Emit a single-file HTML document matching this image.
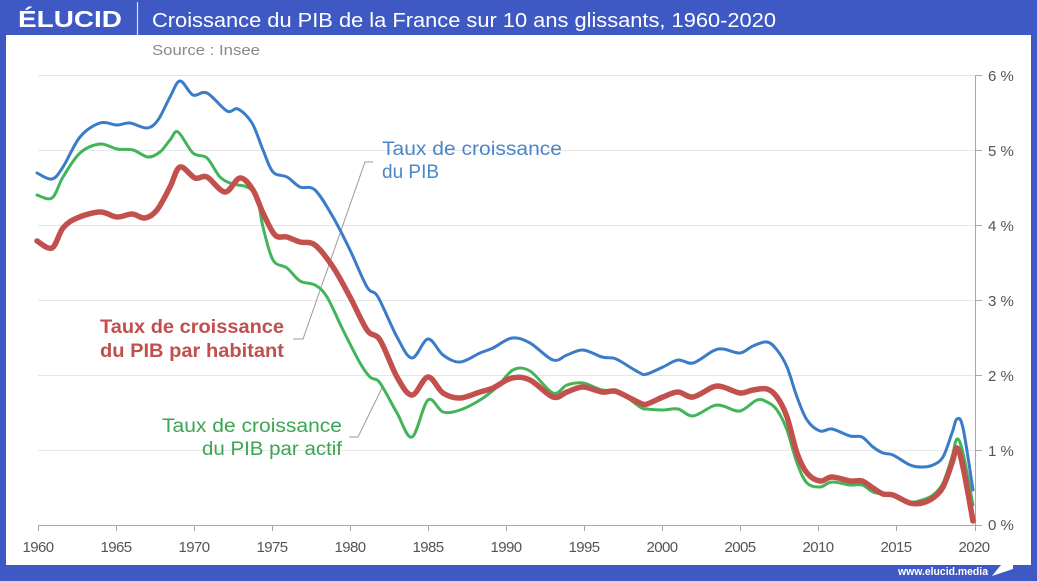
<!DOCTYPE html>
<html><head><meta charset="utf-8"><style>
html,body{margin:0;padding:0;background:#fff;}
svg{display:block;}
text{font-family:"Liberation Sans",sans-serif;}
</style></head><body>
<svg id="chart" width="1037" height="581" viewBox="0 0 1037 581" xmlns="http://www.w3.org/2000/svg">
<rect x="0" y="0" width="1037" height="581" fill="#3f59c4"/>
<rect x="6" y="35" width="1025" height="530" fill="#ffffff"/>
<polygon points="992,576 1013,569 1013,558 1000,566" fill="#ffffff"/>
<line x1="137.5" y1="2" x2="137.5" y2="35" stroke="#ffffff" stroke-width="1.2" opacity="0.8"/>
<text x="18" y="27" fill="#fff" font-size="23" font-weight="bold" textLength="104" lengthAdjust="spacingAndGlyphs">ÉLUCID</text>
<text x="152" y="27" fill="#fff" font-size="20" textLength="624" lengthAdjust="spacingAndGlyphs">Croissance du PIB de la France sur 10 ans glissants, 1960-2020</text>
<text x="152" y="55" fill="#8a8a8a" font-size="15" textLength="108" lengthAdjust="spacingAndGlyphs">Source : Insee</text>
<text x="898" y="575" fill="#fff" font-size="11" font-weight="bold" textLength="90" lengthAdjust="spacingAndGlyphs">www.elucid.media</text>

<g stroke="#e6e6e6" stroke-width="1">
<line x1="38" y1="75.5" x2="975" y2="75.5"/>
<line x1="38" y1="150.5" x2="975" y2="150.5"/>
<line x1="38" y1="225.5" x2="975" y2="225.5"/>
<line x1="38" y1="300.5" x2="975" y2="300.5"/>
<line x1="38" y1="375.5" x2="975" y2="375.5"/>
<line x1="38" y1="450.5" x2="975" y2="450.5"/>
</g>
<g stroke="#a8a8a8" stroke-width="1">
<line x1="38" y1="525.5" x2="975" y2="525.5"/>
<line x1="975.5" y1="75" x2="975.5" y2="526"/>
<line x1="975" y1="75.5" x2="982" y2="75.5"/>
<line x1="975" y1="150.5" x2="982" y2="150.5"/>
<line x1="975" y1="225.5" x2="982" y2="225.5"/>
<line x1="975" y1="300.5" x2="982" y2="300.5"/>
<line x1="975" y1="375.5" x2="982" y2="375.5"/>
<line x1="975" y1="450.5" x2="982" y2="450.5"/>
<line x1="975" y1="525.5" x2="982" y2="525.5"/>
<line x1="38.5" y1="525" x2="38.5" y2="531"/>
<line x1="116.5" y1="525" x2="116.5" y2="531"/>
<line x1="194.5" y1="525" x2="194.5" y2="531"/>
<line x1="272.5" y1="525" x2="272.5" y2="531"/>
<line x1="350.5" y1="525" x2="350.5" y2="531"/>
<line x1="428.5" y1="525" x2="428.5" y2="531"/>
<line x1="506.5" y1="525" x2="506.5" y2="531"/>
<line x1="584.5" y1="525" x2="584.5" y2="531"/>
<line x1="662.5" y1="525" x2="662.5" y2="531"/>
<line x1="740.5" y1="525" x2="740.5" y2="531"/>
<line x1="818.5" y1="525" x2="818.5" y2="531"/>
<line x1="896.5" y1="525" x2="896.5" y2="531"/>
<line x1="975.5" y1="525" x2="975.5" y2="531"/>
</g>
<g fill="#555" font-size="15">
<text x="988" y="81">6 %</text>
<text x="988" y="156">5 %</text>
<text x="988" y="231">4 %</text>
<text x="988" y="306">3 %</text>
<text x="988" y="381">2 %</text>
<text x="988" y="456">1 %</text>
<text x="988" y="530">0 %</text>
</g>
<g fill="#555" font-size="15" text-anchor="middle" letter-spacing="-0.6">
<text x="38" y="552">1960</text>
<text x="116" y="552">1965</text>
<text x="194" y="552">1970</text>
<text x="272" y="552">1975</text>
<text x="350" y="552">1980</text>
<text x="428" y="552">1985</text>
<text x="506" y="552">1990</text>
<text x="584" y="552">1995</text>
<text x="662" y="552">2000</text>
<text x="740" y="552">2005</text>
<text x="818" y="552">2010</text>
<text x="896" y="552">2015</text>
<text x="974" y="552">2020</text>
</g>

<g fill="none" stroke="#9a9a9a" stroke-width="1">
<polyline points="293,339 303,339 365,162 373,162"/>
<polyline points="349,437 358,437 382,388"/>
</g>

<g fill="none" stroke-linejoin="round" stroke-linecap="round">
<polyline class="sm" stroke="#3b7cc9" stroke-width="3" points="37,173 52,179 63,167 80,137 100,123 117,125 130,123 147,128 158,120 170,97 180,81 193,95 207,93 227,111 238,109 252,123 263,150 273,172 287,177 300,187 315,190 333,217 350,250 367,287 378,297 397,337 412,358 428,339 443,355 460,362 480,353 493,348 512,338 530,343 553,360 567,355 583,350 602,357 613,358 620,361 640,373 647,374 663,367 678,360 693,363 713,351 723,349 740,353 753,346 767,342 777,350 787,367 797,397 807,420 820,431 832,429 850,436 862,437 873,447 883,453 893,455 910,465 922,467 933,465 943,457 952,433 957,419 963,428 973,490"/>
<polyline class="sm" stroke="#42b459" stroke-width="3" points="37,195 52,198 63,177 80,153 100,144 117,149 133,150 148,157 160,152 170,140 178,132 193,153 207,158 220,177 233,184 247,187 257,197 263,227 273,260 287,268 300,281 315,285 327,297 343,330 360,363 370,377 380,383 397,413 412,437 428,400 443,412 460,410 480,400 497,387 513,370 530,371 553,393 567,385 583,383 602,390 613,390 620,392 640,407 647,409 663,410 678,409 693,416 713,406 723,406 740,411 757,400 767,402 777,410 787,430 797,463 807,483 820,487 832,482 850,485 862,485 873,492 883,494 893,495 910,502 922,500 933,495 943,483 952,457 957,439 963,453 973,505"/>
<polyline class="sm" stroke="#c2504c" stroke-width="5.5" points="37,241 52,248 63,228 77,218 100,212 117,217 132,214 145,218 157,210 170,187 180,167 195,178 207,177 225,192 240,178 253,190 263,213 275,235 287,237 300,242 315,245 333,267 350,297 367,330 380,340 397,377 412,395 428,377 443,393 460,398 480,392 493,388 512,378 530,380 553,397 567,392 583,387 602,392 613,391 620,393 640,403 647,404 663,397 678,392 693,397 713,387 723,387 740,393 753,390 767,389 777,397 787,417 797,453 807,473 820,481 832,477 850,481 862,481 873,488 883,494 893,495 910,503 922,503 933,498 943,487 952,463 957,448 963,467 973,521"/>
</g>

<g font-size="19" fill="#4a86c8">
<text x="382" y="155" textLength="180" lengthAdjust="spacingAndGlyphs">Taux de croissance</text>
<text x="382" y="178">du PIB</text>
</g>
<g font-size="19" font-weight="bold" fill="#c0504d" text-anchor="end">
<text x="284" y="333" textLength="184" lengthAdjust="spacingAndGlyphs">Taux de croissance</text>
<text x="284" y="357" textLength="184" lengthAdjust="spacingAndGlyphs">du PIB par habitant</text>
</g>
<g font-size="19" fill="#3aa552" text-anchor="end">
<text x="342" y="432" textLength="180" lengthAdjust="spacingAndGlyphs">Taux de croissance</text>
<text x="342" y="455" textLength="140" lengthAdjust="spacingAndGlyphs">du PIB par actif</text>
</g>
</svg>
<script>
(function(){
  var NS="http://www.w3.org/2000/svg";
  var pls=document.querySelectorAll("polyline.sm");
  for(var k=0;k<pls.length;k++){
    var pl=pls[k];
    var pts=pl.getAttribute("points").trim().split(/\s+/).map(function(s){var a=s.split(",");return [parseFloat(a[0]),parseFloat(a[1])];});
    var d="M"+pts[0][0]+","+pts[0][1];
    var t=0.5;
    for(var i=0;i<pts.length-1;i++){
      var p0=pts[i>0?i-1:0],p1=pts[i],p2=pts[i+1],p3=pts[i+2<pts.length?i+2:i+1];
      var c1x=p1[0]+(p2[0]-p0[0])/6*t*2,c1y=p1[1]+(p2[1]-p0[1])/6*t*2;
      var c2x=p2[0]-(p3[0]-p1[0])/6*t*2,c2y=p2[1]-(p3[1]-p1[1])/6*t*2;
      d+=" C"+c1x.toFixed(2)+","+c1y.toFixed(2)+" "+c2x.toFixed(2)+","+c2y.toFixed(2)+" "+p2[0]+","+p2[1];
    }
    var path=document.createElementNS(NS,"path");
    path.setAttribute("d",d);
    path.setAttribute("stroke",pl.getAttribute("stroke"));
    path.setAttribute("stroke-width",pl.getAttribute("stroke-width"));
    path.setAttribute("fill","none");
    path.setAttribute("stroke-linejoin","round");
    path.setAttribute("stroke-linecap","round");
    pl.parentNode.replaceChild(path,pl);
  }
})();
</script>
</body></html>
